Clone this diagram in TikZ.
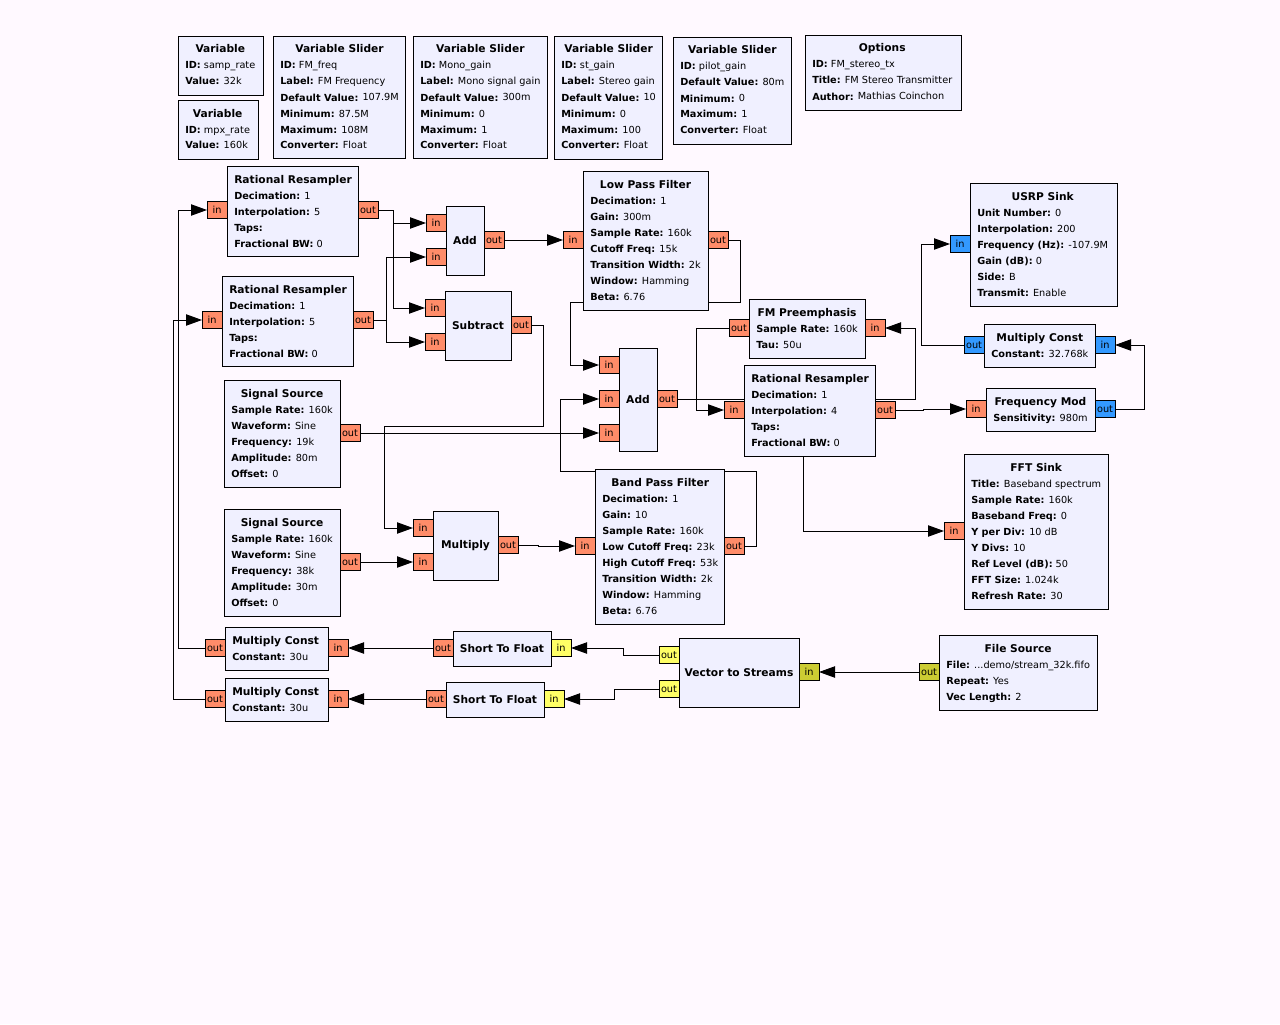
\documentclass[tikz,border=0pt]{standalone}
\usepackage{fontspec}
\setmainfont{DejaVu Sans}
\usetikzlibrary{arrows.meta}
\definecolor{bgc}{HTML}{FFF9FF}
\definecolor{blockc}{HTML}{F0F0FF}
\definecolor{fltc}{HTML}{FF8C69}
\definecolor{cpxc}{HTML}{3399FF}
\definecolor{shtc}{HTML}{FFFF66}
\definecolor{svc}{HTML}{CCCC33}
\pgfdeclarelayer{back}
\pgfdeclarelayer{wires}
\pgfsetlayers{back,wires,main}
\newcommand\blkttl[1]{\multicolumn{1}{@{}c@{}}{\fontsize{8}{12}\selectfont\bfseries #1}}
\newcommand\kvp[2]{\textbf{#1:} #2}
\newcommand\blk[6]{%
  \node[blockbox, minimum width={(#4-#2)*0.75pt}, minimum height={(#5-#3)*0.75pt}] (#1) at ({(#2+#4)/2},{(#3+#5)/2}) {};
  \node[blocktext] (#1t) at ({#2+7},{#3+17}) {\begin{tabular}[t]{@{}l@{}}#6\end{tabular}};}
\newcommand\cblk[6]{%
  \node[blockbox, font=\fontsize{8}{12}\selectfont\bfseries, minimum width={(#4-#2)*0.75pt}, minimum height={(#5-#3)*0.75pt}] (#1) at ({(#2+#4)/2},{(#3+#5)/2}) {#6};}
\tikzset{
  blockbox/.style={draw, line width=0.7pt, fill=blockc, rectangle, inner sep=0pt, outer sep=0pt},
  blocktext/.style={anchor=base west, inner sep=0pt, font=\fontsize{7.3}{12}\selectfont},
  port/.style={draw, line width=0.7pt, rectangle, inner sep=0pt, outer sep=0pt, minimum width=15pt, minimum height=12.75pt, font=\fontsize{7.3}{9}\selectfont},
  fport/.style={port, fill=fltc},
  cport/.style={port, fill=cpxc},
  sport/.style={port, fill=shtc},
  svport/.style={port, fill=svc},
  wire/.style={draw, line width=0.75pt, -{Triangle[length=12pt,width=8.5pt]}},
}
\begin{document}
\begin{tikzpicture}[x=0.75pt,y=-0.75pt]
\begin{pgfonlayer}{back}
\fill[bgc] (0,0) rectangle (1280,1024);
\end{pgfonlayer}
\useasboundingbox (0,0) rectangle (1280,1024);

% ---- variables / options ----
\blk{var1}{178}{36}{263}{95}{\blkttl{Variable}\\ \kvp{ID}{samp\_rate}\\ \kvp{Value}{32k}}
\blk{var2}{178}{100}{258}{159}{\blkttl{Variable}\\ \kvp{ID}{mpx\_rate}\\ \kvp{Value}{160k}}
\blk{vs1}{273}{36}{405}{158}{\blkttl{Variable Slider}\\ \kvp{ID}{FM\_freq}\\ \kvp{Label}{FM Frequency}\\ \kvp{Default Value}{107.9M}\\ \kvp{Minimum}{87.5M}\\ \kvp{Maximum}{108M}\\ \kvp{Converter}{Float}}
\blk{vs2}{413}{36}{547}{158}{\blkttl{Variable Slider}\\ \kvp{ID}{Mono\_gain}\\ \kvp{Label}{Mono signal gain}\\ \kvp{Default Value}{300m}\\ \kvp{Minimum}{0}\\ \kvp{Maximum}{1}\\ \kvp{Converter}{Float}}
\blk{vs3}{554}{36}{662}{159}{\blkttl{Variable Slider}\\ \kvp{ID}{st\_gain}\\ \kvp{Label}{Stereo gain}\\ \kvp{Default Value}{10}\\ \kvp{Minimum}{0}\\ \kvp{Maximum}{100}\\ \kvp{Converter}{Float}}
\blk{vs4}{673}{37}{791}{144}{\blkttl{Variable Slider}\\ \kvp{ID}{pilot\_gain}\\ \kvp{Default Value}{80m}\\ \kvp{Minimum}{0}\\ \kvp{Maximum}{1}\\ \kvp{Converter}{Float}}
\blk{opt}{805}{35}{961}{110}{\blkttl{Options}\\ \kvp{ID}{FM\_stereo\_tx}\\ \kvp{Title}{FM Stereo Transmitter}\\ \kvp{Author}{Mathias Coinchon}}

% ---- processing blocks ----
\blk{rr1}{227}{166}{358}{256}{\blkttl{Rational Resampler}\\ \kvp{Decimation}{1}\\ \kvp{Interpolation}{5}\\ \textbf{Taps:}\\ \kvp{Fractional BW}{0}}
\blk{rr2}{222}{276}{353}{366}{\blkttl{Rational Resampler}\\ \kvp{Decimation}{1}\\ \kvp{Interpolation}{5}\\ \textbf{Taps:}\\ \kvp{Fractional BW}{0}}
\cblk{add1}{446}{206}{484}{275}{Add}
\cblk{sub}{445}{291}{511}{360}{Subtract}
\blk{lpf}{583}{171}{708}{310}{\blkttl{Low Pass Filter}\\ \kvp{Decimation}{1}\\ \kvp{Gain}{300m}\\ \kvp{Sample Rate}{160k}\\ \kvp{Cutoff Freq}{15k}\\ \kvp{Transition Width}{2k}\\ \kvp{Window}{Hamming}\\ \kvp{Beta}{6.76}}
\blk{fmp}{749}{299}{865}{358}{\blkttl{FM Preemphasis}\\ \kvp{Sample Rate}{160k}\\ \kvp{Tau}{50u}}
\cblk{add2}{619}{348}{657}{451}{Add}
\blk{rr3}{744}{365}{875}{456}{\blkttl{Rational Resampler}\\ \kvp{Decimation}{1}\\ \kvp{Interpolation}{4}\\ \textbf{Taps:}\\ \kvp{Fractional BW}{0}}
\blk{usrp}{970}{183}{1117}{306}{\blkttl{USRP Sink}\\ \kvp{Unit Number}{0}\\ \kvp{Interpolation}{200}\\ \kvp{Frequency (Hz)}{-107.9M}\\ \kvp{Gain (dB)}{0}\\ \kvp{Side}{B}\\ \kvp{Transmit}{Enable}}
\blk{mcb}{984}{324}{1095}{367}{\blkttl{Multiply Const}\\ \kvp{Constant}{32.768k}}
\blk{fm}{986}{388}{1095}{431}{\blkttl{Frequency Mod}\\ \kvp{Sensitivity}{980m}}
\blk{ss1}{224}{380}{340}{487}{\blkttl{Signal Source}\\ \kvp{Sample Rate}{160k}\\ \kvp{Waveform}{Sine}\\ \kvp{Frequency}{19k}\\ \kvp{Amplitude}{80m}\\ \kvp{Offset}{0}}
\blk{ss2}{224}{509}{340}{616}{\blkttl{Signal Source}\\ \kvp{Sample Rate}{160k}\\ \kvp{Waveform}{Sine}\\ \kvp{Frequency}{38k}\\ \kvp{Amplitude}{30m}\\ \kvp{Offset}{0}}
\cblk{mul}{433}{511}{498}{580}{Multiply}
\blk{bpf}{595}{469}{724}{624}{\blkttl{Band Pass Filter}\\ \kvp{Decimation}{1}\\ \kvp{Gain}{10}\\ \kvp{Sample Rate}{160k}\\ \kvp{Low Cutoff Freq}{23k}\\ \kvp{High Cutoff Freq}{53k}\\ \kvp{Transition Width}{2k}\\ \kvp{Window}{Hamming}\\ \kvp{Beta}{6.76}}
\blk{fft}{964}{454}{1108}{609}{\blkttl{FFT Sink}\\ \kvp{Title}{Baseband spectrum}\\ \kvp{Sample Rate}{160k}\\ \kvp{Baseband Freq}{0}\\ \kvp{Y per Div}{10 dB}\\ \kvp{Y Divs}{10}\\ \kvp{Ref Level (dB)}{50}\\ \kvp{FFT Size}{1.024k}\\ \kvp{Refresh Rate}{30}}
\blk{mc1}{225}{627}{328}{670}{\blkttl{Multiply Const}\\ \kvp{Constant}{30u}}
\blk{mc2}{225}{678}{328}{721}{\blkttl{Multiply Const}\\ \kvp{Constant}{30u}}
\cblk{stf1}{453}{631}{551}{666}{Short To Float}
\cblk{stf2}{446}{682}{544}{717}{Short To Float}
\cblk{vts}{679}{638}{799}{707}{Vector to Streams}
\blk{fs}{939}{635}{1097}{710}{\blkttl{File Source}\\ \kvp{File}{...demo/stream\_32k.fifo}\\ \kvp{Repeat}{Yes}\\ \kvp{Vec Length}{2}}

% ---- ports ----
\node[fport, anchor=east] (rr1i) at (227,210) {in};
\node[fport, anchor=west] (rr1o) at (358,210) {out};
\node[fport, anchor=east] (rr2i) at (222,320) {in};
\node[fport, anchor=west] (rr2o) at (353,320) {out};
\node[fport, anchor=east] (a1i0) at (446,223) {in};
\node[fport, anchor=east] (a1i1) at (446,257) {in};
\node[fport, anchor=west] (a1o) at (484,240) {out};
\node[fport, anchor=east] (subi0) at (445,308) {in};
\node[fport, anchor=east] (subi1) at (445,342) {in};
\node[fport, anchor=west] (subo) at (511,325) {out};
\node[fport, anchor=east] (lpfi) at (583,240) {in};
\node[fport, anchor=west] (lpfo) at (708,240) {out};
\node[fport, anchor=east] (fmpo) at (749,328) {out};
\node[fport, anchor=west] (fmpi) at (865,328) {in};
\node[fport, anchor=east] (a2i0) at (619,365) {in};
\node[fport, anchor=east] (a2i1) at (619,399) {in};
\node[fport, anchor=east] (a2i2) at (619,433) {in};
\node[fport, anchor=west] (a2o) at (657,399) {out};
\node[fport, anchor=east] (rr3i) at (744,410) {in};
\node[fport, anchor=west] (rr3o) at (875,410) {out};
\node[cport, anchor=east] (usrpi) at (970,244) {in};
\node[cport, anchor=east] (mcbo) at (984,345) {out};
\node[cport, anchor=west] (mcbi) at (1095,345) {in};
\node[fport, anchor=east] (fmi) at (986,409) {in};
\node[cport, anchor=west] (fmo) at (1095,409) {out};
\node[fport, anchor=west] (ss1o) at (340,433) {out};
\node[fport, anchor=west] (ss2o) at (340,562) {out};
\node[fport, anchor=east] (muli0) at (433,528) {in};
\node[fport, anchor=east] (muli1) at (433,562) {in};
\node[fport, anchor=west] (mulo) at (498,545) {out};
\node[fport, anchor=east] (bpfi) at (595,546) {in};
\node[fport, anchor=west] (bpfo) at (724,546) {out};
\node[fport, anchor=east] (ffti) at (964,531) {in};
\node[fport, anchor=east] (mc1o) at (225,648) {out};
\node[fport, anchor=west] (mc1i) at (328,648) {in};
\node[fport, anchor=east] (mc2o) at (225,699) {out};
\node[fport, anchor=west] (mc2i) at (328,699) {in};
\node[fport, anchor=east] (stf1o) at (453,648) {out};
\node[sport, anchor=west] (stf1i) at (551,648) {in};
\node[fport, anchor=east] (stf2o) at (446,699) {out};
\node[sport, anchor=west] (stf2i) at (544,699) {in};
\node[sport, anchor=east] (vtso0) at (679,655) {out};
\node[sport, anchor=east] (vtso1) at (679,689) {out};
\node[svport, anchor=west] (vtsi) at (799,672) {in};
\node[svport, anchor=east] (fso) at (939,672) {out};

% ---- connections ----
\begin{pgfonlayer}{wires}
\path[wire] (rr1o.east) -- ++(15,0) |- (a1i0.west);
\path[wire] (rr1o.east) -- ++(15,0) |- (subi0.west);
\path[wire] (rr2o.east) -- ++(13,0) |- (a1i1.west);
\path[wire] (rr2o.east) -- ++(13,0) |- (subi1.west);
\path[wire] (a1o.east) -- (lpfi.west);
\path[wire] (lpfo.east) -| (740,302) -- (570,302) |- (a2i0.west);
\path[wire] (subo.east) -| (543,426) -- (384,426) |- (muli0.west);
\path[wire] (ss1o.east) -- (a2i2.west);
\path[wire] (ss2o.east) -- (muli1.west);
\path[wire] (mulo.east) -- ++(20,0) |- (bpfi.west);
\path[wire] (bpfo.east) -| (756,471) -- (560,471) |- (a2i1.west);
\path[wire] (a2o.east) -| (915,328) -- (fmpi.east);
\path[wire] (a2o.east) -| (803,531) -- (ffti.west);
\path[wire] (fmpo.west) -| (696,410) -- (rr3i.west);
\path[wire] (rr3o.east) -- ++(28,0) |- (fmi.west);
\path[wire] (fmo.east) -| (1144,345) -- (mcbi.east);
\path[wire] (mcbo.west) -| (921,244) -- (usrpi.west);
\path[wire] (fso.west) -- (vtsi.east);
\path[wire] (vtso0.west) -| (623,648) -- (stf1i.east);
\path[wire] (vtso1.west) -| (614,699) -- (stf2i.east);
\path[wire] (stf1o.west) -- (mc1i.east);
\path[wire] (stf2o.west) -- (mc2i.east);
\path[wire] (mc1o.west) -| (178,210) -- (rr1i.west);
\path[wire] (mc2o.west) -| (173,320) -- (rr2i.west);
\end{pgfonlayer}
\end{tikzpicture}
\end{document}
